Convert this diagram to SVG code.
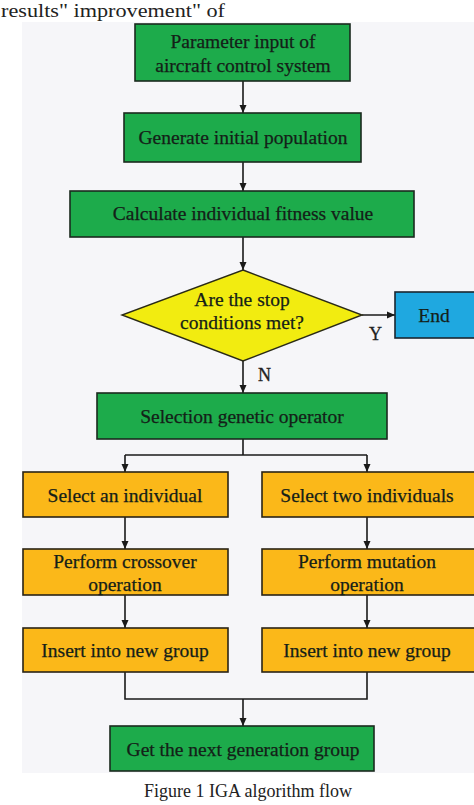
<svg xmlns="http://www.w3.org/2000/svg" width="474" height="805" viewBox="0 0 474 805">
<style>
.t{font-family:"Liberation Serif","Times New Roman",serif;font-size:19.5px;fill:#142018;text-anchor:middle;stroke:#142018;stroke-width:0.25}
.g{fill:#1dab4b;stroke:#1b2a1e;stroke-width:1.6}
.o{fill:#fbb819;stroke:#2a2416;stroke-width:1.6}
.y{fill:#f2ec10;stroke:#2a2a16;stroke-width:1.4}
.b{fill:#1fa8e0;stroke:#1a2630;stroke-width:1.6}
.c{fill:none;stroke:#1a1a1a;stroke-width:1.6}
.lbl{font-family:"Liberation Serif","Times New Roman",serif;font-size:18px;fill:#222;stroke:#222;stroke-width:0.3}
</style>
<defs>
<marker id="ah" markerWidth="10" markerHeight="10" refX="9" refY="5" orient="auto" markerUnits="userSpaceOnUse">
<path d="M1,1.5 L9,5 L1,8.5 Z" fill="#1a1a1a"/>
</marker>
</defs>
<rect x="0" y="0" width="474" height="805" fill="#ffffff"/>
<text x="1" y="17" font-family="Liberation Serif, serif" font-size="19" fill="#222" textLength="224" lengthAdjust="spacingAndGlyphs">results" improvement" of</text>
<rect x="22" y="22" width="452" height="751" fill="#f6f6f9"/>
<g id="connectors">
<line class="c" x1="243" y1="81" x2="243" y2="113" marker-end="url(#ah)"/>
<line class="c" x1="243" y1="162" x2="243" y2="191" marker-end="url(#ah)"/>
<line class="c" x1="243" y1="237" x2="243" y2="270" marker-end="url(#ah)"/>
<line class="c" x1="362" y1="315" x2="395" y2="315" marker-end="url(#ah)"/>
<line class="c" x1="243" y1="361" x2="243" y2="393" marker-end="url(#ah)"/>
<polyline class="c" points="243,439 243,455"/>
<polyline class="c" points="125,455 367,455"/>
<line class="c" x1="125" y1="455" x2="125" y2="472" marker-end="url(#ah)"/>
<line class="c" x1="367" y1="455" x2="367" y2="472" marker-end="url(#ah)"/>
<line class="c" x1="125" y1="517" x2="125" y2="549" marker-end="url(#ah)"/>
<line class="c" x1="367" y1="517" x2="367" y2="549" marker-end="url(#ah)"/>
<line class="c" x1="125" y1="595" x2="125" y2="628" marker-end="url(#ah)"/>
<line class="c" x1="367" y1="595" x2="367" y2="628" marker-end="url(#ah)"/>
<polyline class="c" points="125,672 125,699 367,699 367,672"/>
<line class="c" x1="243" y1="699" x2="243" y2="726" marker-end="url(#ah)"/>
<text class="lbl" x="369" y="340">Y</text>
<text class="lbl" x="258" y="381">N</text>
</g>
<g id="n1"><rect class="g" x="135" y="24" width="215" height="57"/>
<text class="t" x="243" y="48">Parameter input of</text>
<text class="t" x="243" y="72">aircraft control system</text></g>
<g id="n2"><rect class="g" x="124" y="113" width="237" height="49"/>
<text class="t" x="243" y="144">Generate initial population</text></g>
<g id="n3"><rect class="g" x="70" y="191" width="344" height="46"/>
<text class="t" x="243" y="220">Calculate individual fitness value</text></g>
<g id="n4"><polygon class="y" points="243,270 362,315 243,361 122,315"/>
<text class="t" x="242" y="306">Are the stop</text>
<text class="t" x="242" y="329">conditions met?</text></g>
<g id="n5"><rect class="b" x="395" y="292" width="82" height="46"/>
<text class="t" x="434" y="322">End</text></g>
<g id="n6"><rect class="g" x="97" y="393" width="290" height="46"/>
<text class="t" x="242" y="423">Selection genetic operator</text></g>
<g id="n7"><rect class="o" x="23" y="472" width="205" height="45"/>
<text class="t" x="125" y="502">Select an individual</text></g>
<g id="n8"><rect class="o" x="262" y="472" width="215" height="45"/>
<text class="t" x="367" y="502">Select two individuals</text></g>
<g id="n9"><rect class="o" x="23" y="549" width="205" height="46"/>
<text class="t" x="125" y="568">Perform crossover</text>
<text class="t" x="125" y="591">operation</text></g>
<g id="n10"><rect class="o" x="262" y="549" width="215" height="46"/>
<text class="t" x="367" y="568">Perform mutation</text>
<text class="t" x="367" y="591">operation</text></g>
<g id="n11"><rect class="o" x="23" y="628" width="205" height="44"/>
<text class="t" x="125" y="657">Insert into new group</text></g>
<g id="n12"><rect class="o" x="262" y="628" width="215" height="44"/>
<text class="t" x="367" y="657">Insert into new group</text></g>
<g id="n13"><rect class="g" x="110" y="726" width="264" height="45"/>
<text class="t" x="243" y="756">Get the next generation group</text></g>
<text x="248" y="797" font-family="Liberation Serif, serif" font-size="18" fill="#222" text-anchor="middle">Figure 1 IGA algorithm flow</text>
</svg>
